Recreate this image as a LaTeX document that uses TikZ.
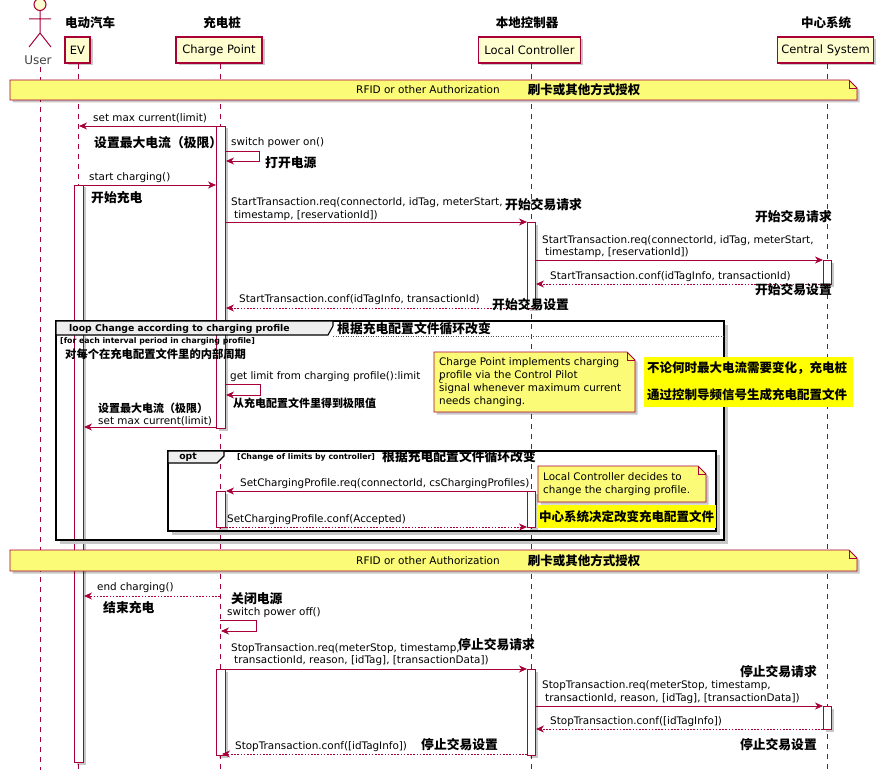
\documentclass[tikz,border=0pt]{standalone}
\usepackage{fontspec}
\setmainfont{DejaVu Sans}
\newfontfamily\cjk{Noto Sans CJK SC}
\usetikzlibrary{arrows.meta,shadows}
\definecolor{crim}{HTML}{A80036}
\definecolor{pboxc}{HTML}{FEFECE}
\definecolor{notey}{HTML}{FBFB77}
\definecolor{tabg}{HTML}{EEEEEE}
\definecolor{hiy}{HTML}{FFFF00}
\tikzset{
 shadowed/.style={drop shadow={shadow xshift=2.5pt,shadow yshift=-2.5pt,fill=black,opacity=.22}},
 lifeline/.style={crim,line width=.8pt,dash pattern=on 5pt off 5pt},
 pbox/.style={draw=crim,fill=pboxc,line width=1.1pt,minimum height=26pt,inner sep=0pt,font=\fontsize{11.5}{13}\selectfont,shadowed},
 ptitle/.style={inner sep=0pt,font=\cjk\bfseries\fontsize{12.5}{14}\selectfont},
 act/.style={draw=crim,fill=white,line width=.8pt,shadowed},
 msg/.style={crim,line width=.8pt,-{Stealth[length=8pt,width=7pt,inset=2.5pt]}},
 ret/.style={msg,dash pattern=on 1.6pt off 1.6pt},
 lbl/.style={anchor=west,inner sep=0pt,align=left,font=\fontsize{10.4}{12.5}\selectfont},
 cn/.style={anchor=west,inner sep=0pt,font=\cjk\bfseries\fontsize{12.8}{14}\selectfont},
 cnr/.style={cn,anchor=east},
 notest/.style={draw=crim,fill=notey,line width=.8pt,shadowed},
 foldst/.style={draw=crim,line width=.8pt},
 notetxt/.style={anchor=west,inner sep=0pt,align=left,font=\fontsize{10.4}{13}\selectfont},
 framest/.style={draw=black,line width=1.4pt},
 tabst/.style={draw=black,fill=tabg,line width=1.1pt},
 fshadow/.style={black!22,line width=3pt},
 tabtxt/.style={anchor=west,inner sep=0pt,font=\bfseries\fontsize{9.3}{11}\selectfont},
 guardtxt/.style={anchor=west,inner sep=0pt,font=\bfseries\fontsize{7.8}{9}\selectfont},
 hibox/.style={fill=hiy,draw=none},
 bartxt/.style={inner sep=0pt,font=\fontsize{10.5}{12}\selectfont},
 hitxt/.style={inner sep=0pt,font=\cjk\bfseries\fontsize{12.5}{14}\selectfont},
}
\begin{document}
\begin{tikzpicture}[x=1pt,y=-1pt]
\useasboundingbox[fill=white] (0,0) rectangle (888,778);

% ---------- participants ----------
\draw[crim,fill=pboxc,line width=1pt] (40,4.5) circle (6pt);
\draw[crim,line width=1pt] (40,11) -- (40,33) (29,19) -- (51,19) (29,47) -- (40,33) -- (51,47);
\node[inner sep=0pt,font=\fontsize{12}{14}\selectfont,text=black!75] (userlbl) at (38,60) {User};

\node[pbox,minimum width=25pt] (ev) at (77.5,50) {EV};
\node[pbox,minimum width=86pt] (cp) at (219,50) {Charge Point};
\node[pbox,minimum width=102pt] (lc) at (529.5,50) {Local Controller};
\node[pbox,minimum width=96pt] (cs) at (825.5,50) {Central System};

\node[ptitle] (evt) at (90,23) {电动汽车};
\node[ptitle] (cpt) at (222,23) {充电桩};
\node[ptitle] (lct) at (527,23) {本地控制器};
\node[ptitle] (cst) at (826,23) {中心系统};

% ---------- lifelines ----------
\coordinate (uT) at (40,67);   \coordinate (uB) at (40,770);
\coordinate (evT) at (78,64);  \coordinate (evB) at (78,770);
\coordinate (cpT) at (220,64); \coordinate (cpB) at (220,770);
\coordinate (lcT) at (531,64); \coordinate (lcB) at (531,770);
\coordinate (csT) at (827,64); \coordinate (csB) at (827,770);
\draw[lifeline] (uT) -- (uB);
\draw[lifeline] (evT) -- (evB);
\draw[lifeline] (cpT) -- (cpB);
\draw[lifeline] (lcT) -- (lcB);
\draw[lifeline] (csT) -- (csB);

% ---------- activations ----------
\draw[act] (74,185) rectangle (83,762);
\draw[act] (216,126) rectangle (225,428);
\draw[act] (527,222) rectangle (535,308);
\draw[act] (823,260) rectangle (831,284);
\draw[act] (216,491) rectangle (225,527);
\draw[act] (527,491) rectangle (535,527);
\draw[act] (216,669) rectangle (225,755);
\draw[act] (527,669) rectangle (535,755);
\draw[act] (823,706) rectangle (831,729);

% ---------- loop frame ----------
\draw[fshadow] (726,325) -- (726,542) -- (60,542);
\draw[framest] (56,321) rectangle (724,540);
\draw[tabst] (56,321) -- (333,321) -- (333,326) -- (328,335) -- (56,335) -- cycle;
\draw[black!70,line width=.6pt,dash pattern=on 1pt off 1.5pt] (333,336) -- (724,336);
\node[tabtxt] (looptab) at (69,328.5) {loop Change according to charging profile};
\node[cn] (loopcn) at (337,328.5) {根据充电配置文件循环改变};
\node[guardtxt] (loopguard) at (60,341.5) {[for each interval period in charging profile]};
\node[cn,font=\cjk\bfseries\fontsize{11.3}{13}\selectfont] (loopcn2) at (65,354) {对每个在充电配置文件里的内部周期};

% ---------- opt frame ----------
\draw[fshadow] (718,455) -- (718,533) -- (172,533);
\draw[framest] (168,451) rectangle (716,531);
\draw[tabst] (168,451) -- (224,451) -- (224,456) -- (217,463) -- (168,463) -- cycle;
\node[inner sep=0pt,font=\bfseries\fontsize{9.3}{11}\selectfont] (opttab) at (188,457) {opt};
\node[guardtxt] (optguard) at (237,457) {[Change of limits by controller]};
\node[cn] (optcn) at (382,457) {根据充电配置文件循环改变};

% ---------- RFID bars ----------
\draw[notest] (10,80) -- (849,80) -- (857,88) -- (857,100) -- (10,100) -- cycle;
\draw[foldst] (849,80) -- (849,88) -- (857,88);
\node[bartxt] (rfid1) at (428,90) {RFID or other Authorization};
\node[hitxt] (rfid1cn) at (584,90) {刷卡或其他方式授权};

\draw[notest] (10,550) -- (849,550) -- (857,558) -- (857,571) -- (10,571) -- cycle;
\draw[foldst] (849,550) -- (849,558) -- (857,558);
\node[bartxt] (rfid2) at (428,560.5) {RFID or other Authorization};
\node[hitxt] (rfid2cn) at (584,560.5) {刷卡或其他方式授权};

% ---------- notes ----------
\draw[notest] (434,352) -- (627,352) -- (635,360) -- (635,412) -- (434,412) -- cycle;
\draw[foldst] (627,352) -- (627,360) -- (635,360);
\node[notetxt] (note1) at (439,382.5) {Charge Point implements charging\\profile via the Control Pilot\\signal whenever maximum current\\needs changing.};
\node[inner sep=0pt,font=\fontsize{8}{9}\selectfont] (cstray) at (441,381.5) {c};

\fill[hibox] (644,357) rectangle (853,407);
\node[hitxt] (hi1) at (747,368) {不论何时最大电流需要变化，充电桩};
\node[hitxt] (hi2) at (747,395) {通过控制导频信号生成充电配置文件};

\draw[notest] (538,466) -- (698,466) -- (706,474) -- (706,502) -- (538,502) -- cycle;
\draw[foldst] (698,466) -- (698,474) -- (706,474);
\node[notetxt] (note2) at (543,484.5) {Local Controller decides to\\change the charging profile.};

\fill[hibox] (537,505) rectangle (716,528);
\node[hitxt] (hi3) at (626.5,516.5) {中心系统决定改变充电配置文件};

% ---------- messages ----------
\coordinate (a1) at (216,126); \coordinate (b1) at (79,126);
\draw[msg] (a1) -- (b1);
\node[lbl] (l1) at (93,118) {set max current(limit)};
\node[cn] (c1) at (94,143) {设置最大电流（极限）};

\coordinate (s1a) at (225,151); \coordinate (s1b) at (226,161);
\draw[msg] (s1a) -- ++(34,0) -- ++(0,10) -- (s1b);
\node[lbl] (l2) at (231,143) {switch power on()};
\node[cn] (c2) at (265,163) {打开电源};

\coordinate (a3) at (83,185); \coordinate (b3) at (216,185);
\draw[msg] (a3) -- (b3);
\node[lbl] (l3) at (89,178) {start charging()};
\node[cn] (c3) at (91,198) {开始充电};

\coordinate (a4) at (225,222); \coordinate (b4) at (527,222);
\draw[msg] (a4) -- (b4);
\node[lbl] (l4) at (231,209) {StartTransaction.req(connectorId, idTag, meterStart,\\\hspace*{3pt}timestamp, [reservationId])};
\node[cn] (c4) at (505,205) {开始交易请求};

\coordinate (a5) at (535,260); \coordinate (b5) at (823,260);
\draw[msg] (a5) -- (b5);
\node[lbl] (l5) at (542,246.5) {StartTransaction.req(connectorId, idTag, meterStart,\\\hspace*{3pt}timestamp, [reservationId])};
\node[cnr] (c5) at (832,217) {开始交易请求};

\coordinate (a6) at (823,284); \coordinate (b6) at (536,284);
\draw[ret] (a6) -- (b6);
\node[lbl] (l6) at (550,276.5) {StartTransaction.conf(idTagInfo, transactionId)};
\node[cnr] (c6) at (832,289.5) {开始交易设置};

\coordinate (a7) at (527,308); \coordinate (b7) at (226,308);
\draw[ret] (a7) -- (b7);
\node[lbl] (l7) at (239,300) {StartTransaction.conf(idTagInfo, transactionId)};
\node[cn] (c7) at (492,305) {开始交易设置};

\coordinate (s2a) at (226,384); \coordinate (s2b) at (226,395);
\draw[msg] (s2a) -- ++(34,0) -- ++(0,11) -- (s2b);
\node[lbl] (l8) at (230,377) {get limit from charging profile():limit};
\node[cn,font=\cjk\bfseries\fontsize{11}{13}\selectfont] (c8) at (233,403.5) {从充电配置文件里得到极限值};

\coordinate (a9) at (216,427); \coordinate (b9) at (84,427);
\draw[msg] (a9) -- (b9);
\node[lbl] (l9) at (98,421) {set max current(limit)};
\node[cn,font=\cjk\bfseries\fontsize{11}{13}\selectfont] (c9) at (98,408.5) {设置最大电流（极限）};

\coordinate (a10) at (527,491); \coordinate (b10) at (226,491);
\draw[msg] (a10) -- (b10);
\node[lbl] (l10) at (240,484) {SetChargingProfile.req(connectorId, csChargingProfiles)};

\coordinate (a11) at (226,527); \coordinate (b11) at (527,527);
\draw[ret] (a11) -- (b11);
\node[lbl] (l11) at (227,520) {SetChargingProfile.conf(Accepted)};

\coordinate (a12) at (220,596); \coordinate (b12) at (84,596);
\draw[ret] (a12) -- (b12);
\node[lbl] (l12) at (97,588) {end charging()};
\node[cn] (c12a) at (231,599) {关闭电源};
\node[cn] (c12b) at (103,608) {结束充电};

\coordinate (s3a) at (220,620); \coordinate (s3b) at (221,631);
\draw[msg] (s3a) -- ++(36,0) -- ++(0,11) -- (s3b);
\node[lbl] (l13) at (227,613) {switch power off()};

\coordinate (a14) at (225,669); \coordinate (b14) at (527,669);
\draw[msg] (a14) -- (b14);
\node[lbl] (l14) at (231,654.5) {StopTransaction.req(meterStop, timestamp,\\\hspace*{3pt}transactionId, reason, [idTag], [transactionData])};
\node[cn] (c14) at (458,645) {停止交易请求};

\coordinate (a15) at (535,706); \coordinate (b15) at (823,706);
\draw[msg] (a15) -- (b15);
\node[lbl] (l15) at (542,692) {StopTransaction.req(meterStop, timestamp,\\\hspace*{3pt}transactionId, reason, [idTag], [transactionData])};
\node[cnr] (c15) at (817,672) {停止交易请求};

\coordinate (a16) at (823,729); \coordinate (b16) at (536,729);
\draw[ret] (a16) -- (b16);
\node[lbl] (l16) at (550,722) {StopTransaction.conf([idTagInfo])};
\node[cnr] (c16) at (817,745) {停止交易设置};

\coordinate (a17) at (527,754); \coordinate (b17) at (222,754);
\draw[ret] (a17) -- (b17);
\node[lbl] (l17) at (235,747) {StopTransaction.conf([idTagInfo])};
\node[cn] (c17) at (421,745) {停止交易设置};
\end{tikzpicture}
\end{document}
